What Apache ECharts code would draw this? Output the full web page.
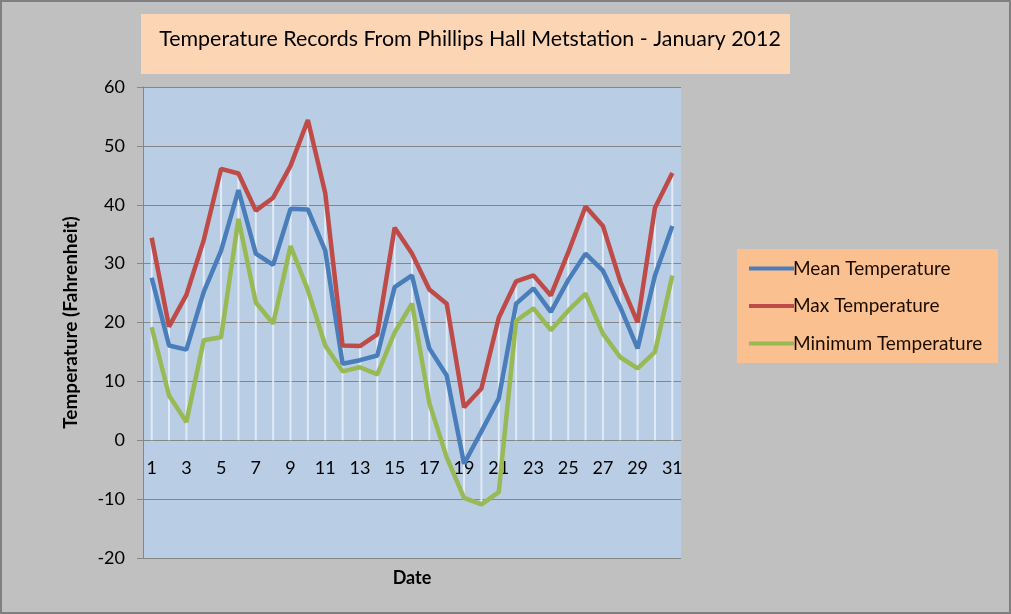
<!DOCTYPE html>
<html lang="en">
<head>
    <meta charset="UTF-8">
    <title>Phillips Hall Metstation - January 2012</title>
    <style>
        html, body { margin: 0; padding: 0; background: #c0c0c0; }
        #main {
            width: 1011px;
            height: 614px;
        }
    </style>
</head>
<body>
    <div id="main"></div>
    <script src="https://cdn.jsdelivr.net/npm/echarts@6/dist/echarts.min.js"></script>
    <script>
        // days of January 2012
        var days = [];
        for (var d = 1; d <= 31; d++) days.push(String(d));

        // temperatures (Fahrenheit)
        var meanTemp = [27.6, 16.1, 15.4, 25.2, 32.2, 42.5, 31.7, 29.8, 39.3, 39.2,
                        32.2, 13.0, 13.6, 14.4, 26.0, 28.0, 15.6, 11.0, -4.0, 1.5,
                        7.1, 23.2, 25.8, 21.8, 27.2, 31.7, 28.8, 22.6, 15.6, 28.0, 36.4];
        var maxTemp = [34.4, 19.3, 24.7, 34.0, 46.1, 45.3, 39.0, 41.2, 46.6, 54.4,
                       42.0, 16.1, 16.0, 18.0, 36.1, 31.7, 25.6, 23.2, 5.6, 8.8,
                       20.8, 27.0, 28.0, 24.6, 31.9, 39.7, 36.4, 27.0, 20.0, 39.5, 45.4];
        var minTemp = [19.2, 7.6, 3.1, 17.0, 17.5, 37.6, 23.4, 19.8, 33.0, 25.5,
                       16.1, 11.7, 12.4, 11.2, 18.3, 23.2, 6.3, -2.9, -9.8, -10.9,
                       -8.8, 20.3, 22.4, 18.7, 22.0, 24.9, 18.1, 14.1, 12.2, 15.0, 28.0];

        var font = 'Lato, "Open Sans", sans-serif';

        // plot box and y range, used to lift the category axis onto 0
        var gridTop = 87, gridBottom = 56, chartH = 614;
        var yMin = -20, yMax = 60;
        var plotH = chartH - gridTop - gridBottom;
        var zeroOffset = -plotH * (0 - yMin) / (yMax - yMin);

        // drop lines: from the axis (0) to the furthest point of each day
        var dropData = days.map(function (day, i) {
            var hi = Math.max(0, meanTemp[i], maxTemp[i], minTemp[i]);
            var lo = Math.min(0, meanTemp[i], maxTemp[i], minTemp[i]);
            return [i, lo, hi];
        });

        var myChart = echarts.init(document.getElementById('main'));

        var option = {
            backgroundColor: '#c0c0c0',
            animation: false,
            graphic: [
                {
                    type: 'rect', z: -10,
                    shape: { x: 1, y: 1, width: 1009, height: 612 },
                    style: { fill: 'none', stroke: '#7f7f7f', lineWidth: 2 }
                },
                {
                    type: 'rect', z: -5,
                    shape: { x: 141, y: 14, width: 649, height: 60 },
                    style: { fill: '#fcd5b5' }
                },
                {
                    type: 'rect', z: -5,
                    shape: { x: 737, y: 249, width: 261, height: 114 },
                    style: { fill: '#fac090' }
                }
            ],
            title: {
                text: 'Temperature Records From Phillips Hall Metstation - January 2012',
                left: 465,
                textAlign: 'center',
                top: 24,
                textStyle: {
                    fontFamily: font,
                    fontSize: 21.4,
                    fontWeight: 'normal',
                    color: '#000'
                }
            },
            legend: {
                orient: 'vertical',
                left: 744,
                top: 254,
                itemWidth: 45,
                itemHeight: 4,
                itemGap: 18.5,
                icon: 'rect',
                data: ['Mean Temperature', 'Max Temperature', 'Minimum Temperature'],
                textStyle: {
                    fontFamily: font,
                    fontSize: 19,
                    color: '#1a0d00',
                    padding: [0, 0, 0, -6]
                }
            },
            grid: {
                left: 143,
                top: gridTop,
                right: 330,
                bottom: gridBottom,
                outerBoundsMode: 'none',
                containLabel: false,
                show: true,
                backgroundColor: '#b9cde5',
                borderWidth: 0
            },
            xAxis: {
                type: 'category',
                data: days,
                boundaryGap: true,
                position: 'bottom',
                offset: zeroOffset,
                name: 'Date',
                nameLocation: 'middle',
                nameGap: 129,
                nameTextStyle: {
                    fontFamily: font,
                    fontSize: 18,
                    fontWeight: 'bold',
                    color: '#000'
                },
                axisLine: { onZero: false, lineStyle: { color: '#868686', width: 1 } },
                axisTick: { show: false },
                axisLabel: {
                    interval: 1,
                    margin: 19,
                    fontFamily: font,
                    fontSize: 18,
                    color: '#000'
                }
            },
            yAxis: {
                type: 'value',
                min: yMin,
                max: yMax,
                interval: 10,
                name: 'Temperature (Fahrenheit)',
                nameLocation: 'middle',
                nameGap: 63,
                nameTextStyle: {
                    fontFamily: font,
                    fontSize: 19,
                    fontWeight: 'bold',
                    color: '#000'
                },
                axisLine: { show: true, lineStyle: { color: '#868686', width: 1 } },
                axisTick: { show: true, length: 6, lineStyle: { color: '#868686' } },
                axisLabel: {
                    margin: 18,
                    fontFamily: font,
                    fontSize: 18,
                    color: '#000'
                },
                splitLine: { lineStyle: { color: '#868686', width: 1 } }
            },
            series: [
                {
                    type: 'custom',
                    name: 'drop',
                    silent: true,
                    z: 1,
                    data: dropData,
                    encode: { x: 0, y: [1, 2] },
                    renderItem: function (params, api) {
                        var p1 = api.coord([api.value(0), api.value(1)]);
                        var p2 = api.coord([api.value(0), api.value(2)]);
                        return {
                            type: 'line',
                            shape: { x1: p1[0], y1: p1[1], x2: p2[0], y2: p2[1] },
                            style: { stroke: 'rgba(232,240,250,0.85)', lineWidth: 2 }
                        };
                    }
                },
                {
                    name: 'Mean Temperature',
                    type: 'line',
                    data: meanTemp,
                    z: 3,
                    symbol: 'none',
                    color: '#4a7ebb',
                    lineStyle: { width: 4.5, color: '#4a7ebb' }
                },
                {
                    name: 'Max Temperature',
                    type: 'line',
                    data: maxTemp,
                    z: 3,
                    symbol: 'none',
                    color: '#be4b48',
                    lineStyle: { width: 4.5, color: '#be4b48' }
                },
                {
                    name: 'Minimum Temperature',
                    type: 'line',
                    data: minTemp,
                    z: 3,
                    symbol: 'none',
                    color: '#98b954',
                    lineStyle: { width: 4.5, color: '#98b954' }
                }
            ]
        };

        myChart.setOption(option);
    </script>
</body>
</html>
